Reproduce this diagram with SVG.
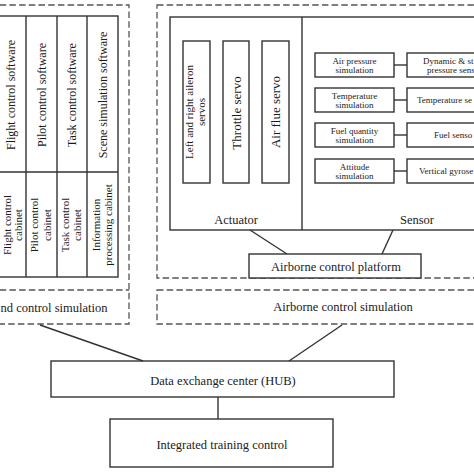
<svg xmlns="http://www.w3.org/2000/svg" width="474" height="474" viewBox="0 0 474 474">
<style>
.s{fill:#fff;stroke:#333;stroke-width:1.4}
.d{fill:none;stroke:#555;stroke-width:1.3;stroke-dasharray:6.5 3.2}
.l{stroke:#333;stroke-width:1.4;fill:none}
text{font-family:"Liberation Serif","Times New Roman",serif;fill:#1a1a1a}
.t13{font-size:13px}
.t12{font-size:12.5px}
.t11{font-size:11px}
.t9{font-size:9px}
.c{text-anchor:middle}
</style>
<rect width="474" height="474" fill="#fff"/>
<g id="ground-sim">
<rect class="d" x="-10" y="5" width="139" height="319"/>
<line class="d" x1="-10" y1="290" x2="129" y2="290"/>
<text class="t12 c" x="54" y="312">nd control simulation</text>
</g>
<g id="ground-table">
<rect class="s" x="-4" y="16" width="122" height="261"/>
<line class="l" x1="26" y1="16" x2="26" y2="277"/>
<line class="l" x1="57" y1="16" x2="57" y2="277"/>
<line class="l" x1="87" y1="16" x2="87" y2="277"/>
<line class="l" x1="-4" y1="172" x2="118" y2="172"/>
<g class="c" style="font-size:12px">
<text transform="translate(15,95) rotate(-90)">Flight control software</text>
<text transform="translate(45.5,95) rotate(-90)">Pilot control software</text>
<text transform="translate(76,95) rotate(-90)">Task control software</text>
<text transform="translate(106.5,95) rotate(-90)">Scene simulation software</text>
</g>
<g class="t11 c">
<text transform="translate(11,225) rotate(-90)">Flight control</text>
<text transform="translate(22,225) rotate(-90)">cabinet</text>
<text transform="translate(38,225) rotate(-90)">Pilot control</text>
<text transform="translate(51,225) rotate(-90)">cabinet</text>
<text transform="translate(68.5,225) rotate(-90)">Task control</text>
<text transform="translate(80.5,225) rotate(-90)">cabinet</text>
<text transform="translate(100,225) rotate(-90)">Information</text>
<text transform="translate(112,225) rotate(-90)">processing cabinet</text>
</g>
</g>
<g id="airborne-platform-group">
<rect class="d" x="157" y="5" width="340" height="273"/>
</g>
<g id="actuator-sensor">
<rect class="s" x="170" y="17" width="330" height="213"/>
<line class="l" x1="302" y1="17" x2="302" y2="230"/>
<text class="t12 c" x="236" y="224">Actuator</text>
<text class="t12 c" x="417" y="224">Sensor</text>
</g>
<g id="servo1"><rect class="s" x="183" y="41" width="27" height="142"/>
<text class="t11 c" transform="translate(193,112) rotate(-90)">Left and right aileron</text>
<text class="t11 c" transform="translate(205,112) rotate(-90)">servos</text></g>
<g id="servo2"><rect class="s" x="223" y="41" width="26" height="142"/>
<text class="t13 c" transform="translate(240.5,113) rotate(-90)">Throttle servo</text></g>
<g id="servo3"><rect class="s" x="262" y="41" width="27" height="142"/>
<text class="t13 c" transform="translate(280,112) rotate(-90)">Air flue servo</text></g>
<g id="sim1"><rect class="s" x="315" y="53" width="79" height="24"/>
<text class="t9 c" x="354.5" y="63.5">Air pressure</text><text class="t9 c" x="354.5" y="73">simulation</text></g>
<g id="sim2"><rect class="s" x="315" y="88" width="79" height="24"/>
<text class="t9 c" x="354.5" y="98.5">Temperature</text><text class="t9 c" x="354.5" y="108">simulation</text></g>
<g id="sim3"><rect class="s" x="315" y="123" width="79" height="24"/>
<text class="t9 c" x="354.5" y="133.5">Fuel quantity</text><text class="t9 c" x="354.5" y="143">simulation</text></g>
<g id="sim4"><rect class="s" x="315" y="159" width="79" height="24"/>
<text class="t9 c" x="354.5" y="169.5">Attitude</text><text class="t9 c" x="354.5" y="179">simulation</text></g>
<g id="sen1"><rect class="s" x="407" y="53" width="100" height="24"/>
<text class="t9" x="423" y="63.5">Dynamic &amp; st</text><text class="t9" x="427" y="73">pressure sens</text></g>
<g id="sen2"><rect class="s" x="407" y="88" width="100" height="24"/>
<text class="t9" x="417" y="103">Temperature se</text></g>
<g id="sen3"><rect class="s" x="407" y="123" width="100" height="24"/>
<text class="t9" x="434" y="138">Fuel senso</text></g>
<g id="sen4"><rect class="s" x="407" y="159" width="100" height="24"/>
<text class="t9" x="419" y="174">Vertical gyrose</text></g>
<g id="platform"><rect class="s" x="249" y="254" width="172" height="24"/>
<text class="t12 c" x="336" y="270.5">Airborne control platform</text></g>
<g id="airborne-sim"><rect class="d" x="157" y="290" width="340" height="34"/>
<text class="t12 c" x="343" y="311">Airborne control simulation</text></g>
<g id="hub"><rect class="s" x="51" y="361" width="343" height="36"/>
<text class="t12 c" x="223" y="385">Data exchange center (HUB)</text></g>
<g id="itc"><rect class="s" x="110" y="419" width="223" height="48"/>
<text class="t12 c" x="222" y="449">Integrated training control</text></g>
<g id="connectors">
<line class="l" x1="394" y1="65" x2="407" y2="65"/>
<line class="l" x1="394" y1="100" x2="407" y2="100"/>
<line class="l" x1="394" y1="135" x2="407" y2="135"/>
<line class="l" x1="394" y1="171" x2="407" y2="171"/>
<line class="l" x1="250" y1="230" x2="287" y2="254"/>
<line class="l" x1="393" y1="230" x2="382" y2="254"/>
<line class="l" x1="40" y1="325" x2="143" y2="361"/>
<line class="l" x1="342" y1="325" x2="289" y2="361"/>
<line class="l" x1="218" y1="397" x2="218" y2="419"/>
</g>
</svg>
